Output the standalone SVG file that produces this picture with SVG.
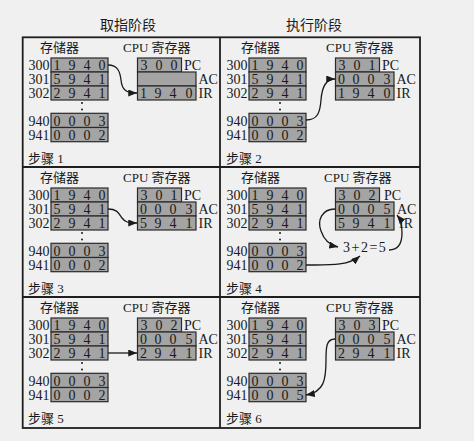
<svg xmlns="http://www.w3.org/2000/svg" width="474" height="441" viewBox="0 0 474 441">
<defs>
<style>
.cjk{font-family:"Noto Sans CJK SC","Noto Sans CJK TC",sans-serif;font-size:13px;fill:#1a1a1a}
.ttl{font-family:"Noto Sans CJK SC","Noto Sans CJK TC",sans-serif;font-size:14px;fill:#1a1a1a;text-anchor:middle}
.num{font-family:"Liberation Serif","Times New Roman",serif;font-size:14px;fill:#1a1a1a}
.mix{font-family:"Liberation Serif","Noto Sans CJK SC",serif;font-size:13px;fill:#1a1a1a}
.c{fill:#a4a4a4;stroke:#2a2a2a;stroke-width:1.2}
.frame{fill:none;stroke:#1e1e1e;stroke-width:1.8}
.conn{fill:none;stroke:#1a1a1a;stroke-width:1.3}
.d{text-anchor:middle}
.a{text-anchor:end}
</style>
<marker id="ah" viewBox="0 0 10 8" refX="10" refY="4" markerWidth="9" markerHeight="7" markerUnits="userSpaceOnUse" orient="auto"><path d="M0,0 L10,4 L0,8 z" fill="#1a1a1a"/></marker>
</defs>
<rect width="474" height="441" fill="#f0f0f0"/>
<text class="ttl" x="128" y="30">取指阶段</text>
<text class="ttl" x="314" y="30">执行阶段</text>
<g id="frame">
<rect class="frame" x="22.7" y="37.3" width="397.3" height="390.7"/>
<line class="frame" x1="220" y1="37.3" x2="220" y2="428"/>
<line class="frame" x1="22.7" y1="167" x2="420" y2="167"/>
<line class="frame" x1="22.7" y1="297" x2="420" y2="297"/>
</g>

<g id="step1">
<text class="cjk" x="40" y="52">存储器</text>
<text class="mix" x="123" y="52">CPU 寄存器</text>
<g class="num a"><text x="49.5" y="70">300</text><text x="49.5" y="84">301</text><text x="49.5" y="98">302</text><text x="49.5" y="125.5">940</text><text x="49.5" y="139.5">941</text></g>
<rect class="c" x="51" y="58" width="57" height="14"/><rect class="c" x="51" y="72" width="57" height="14"/><rect class="c" x="51" y="86" width="57" height="14"/>
<rect class="c" x="51" y="113.3" width="57" height="14.2"/><rect class="c" x="51" y="127.5" width="57" height="14.2"/>
<g class="num d">
<text x="57" y="70">1</text><text x="72" y="70">9</text><text x="87" y="70">4</text><text x="102" y="70">0</text>
<text x="57" y="84">5</text><text x="72" y="84">9</text><text x="87" y="84">4</text><text x="102" y="84">1</text>
<text x="57" y="98">2</text><text x="72" y="98">9</text><text x="87" y="98">4</text><text x="102" y="98">1</text>
<text x="57" y="125.5">0</text><text x="72" y="125.5">0</text><text x="87" y="125.5">0</text><text x="102" y="125.5">3</text>
<text x="57" y="139.5">0</text><text x="72" y="139.5">0</text><text x="87" y="139.5">0</text><text x="102" y="139.5">2</text>
</g>
<circle cx="82" cy="103" r="1" fill="#1a1a1a"/><circle cx="82" cy="109.5" r="1" fill="#1a1a1a"/>
<rect class="c" x="137.5" y="58" width="44" height="14"/><rect class="c" x="137.5" y="72" width="58.5" height="14"/><rect class="c" x="137.5" y="86" width="58.5" height="14"/>
<g class="num d">
<text x="144" y="70">3</text><text x="159" y="70">0</text><text x="174" y="70">0</text>
<text x="143.5" y="98">1</text><text x="158" y="98">9</text><text x="173" y="98">4</text><text x="189" y="98">0</text>
</g>
<g class="num"><text x="184" y="70">PC</text><text x="198.5" y="84">AC</text><text x="198.5" y="98">IR</text></g>
<text class="mix" x="28" y="163">步骤 1</text>
</g>

<g id="step2" transform="translate(198,0)">
<text class="cjk" x="43" y="52">存储器</text>
<text class="mix" x="128" y="52">CPU 寄存器</text>
<g class="num a"><text x="49.5" y="70">300</text><text x="49.5" y="84">301</text><text x="49.5" y="98">302</text><text x="49.5" y="125.5">940</text><text x="49.5" y="139.5">941</text></g>
<rect class="c" x="51" y="58" width="57" height="14"/><rect class="c" x="51" y="72" width="57" height="14"/><rect class="c" x="51" y="86" width="57" height="14"/>
<rect class="c" x="51" y="113.3" width="57" height="14.2"/><rect class="c" x="51" y="127.5" width="57" height="14.2"/>
<g class="num d">
<text x="57" y="70">1</text><text x="72" y="70">9</text><text x="87" y="70">4</text><text x="102" y="70">0</text>
<text x="57" y="84">5</text><text x="72" y="84">9</text><text x="87" y="84">4</text><text x="102" y="84">1</text>
<text x="57" y="98">2</text><text x="72" y="98">9</text><text x="87" y="98">4</text><text x="102" y="98">1</text>
<text x="57" y="125.5">0</text><text x="72" y="125.5">0</text><text x="87" y="125.5">0</text><text x="102" y="125.5">3</text>
<text x="57" y="139.5">0</text><text x="72" y="139.5">0</text><text x="87" y="139.5">0</text><text x="102" y="139.5">2</text>
</g>
<circle cx="82" cy="103" r="1" fill="#1a1a1a"/><circle cx="82" cy="109.5" r="1" fill="#1a1a1a"/>
<rect class="c" x="137.5" y="58" width="44" height="14"/><rect class="c" x="137.5" y="72" width="58.5" height="14"/><rect class="c" x="137.5" y="86" width="58.5" height="14"/>
<g class="num d">
<text x="144" y="70">3</text><text x="159" y="70">0</text><text x="174" y="70">1</text>
<text x="143.5" y="84">0</text><text x="158" y="84">0</text><text x="173" y="84">0</text><text x="189" y="84">3</text>
<text x="143.5" y="98">1</text><text x="158" y="98">9</text><text x="173" y="98">4</text><text x="189" y="98">0</text>
</g>
<g class="num"><text x="184" y="70">PC</text><text x="198.5" y="84">AC</text><text x="198.5" y="98">IR</text></g>
<text class="mix" x="28" y="163">步骤 2</text>
</g>

<g id="step3" transform="translate(0,130)">
<text class="cjk" x="40" y="52">存储器</text>
<text class="mix" x="123" y="52">CPU 寄存器</text>
<g class="num a"><text x="49.5" y="70">300</text><text x="49.5" y="84">301</text><text x="49.5" y="98">302</text><text x="49.5" y="125.5">940</text><text x="49.5" y="139.5">941</text></g>
<rect class="c" x="51" y="58" width="57" height="14"/><rect class="c" x="51" y="72" width="57" height="14"/><rect class="c" x="51" y="86" width="57" height="14"/>
<rect class="c" x="51" y="113.3" width="57" height="14.2"/><rect class="c" x="51" y="127.5" width="57" height="14.2"/>
<g class="num d">
<text x="57" y="70">1</text><text x="72" y="70">9</text><text x="87" y="70">4</text><text x="102" y="70">0</text>
<text x="57" y="84">5</text><text x="72" y="84">9</text><text x="87" y="84">4</text><text x="102" y="84">1</text>
<text x="57" y="98">2</text><text x="72" y="98">9</text><text x="87" y="98">4</text><text x="102" y="98">1</text>
<text x="57" y="125.5">0</text><text x="72" y="125.5">0</text><text x="87" y="125.5">0</text><text x="102" y="125.5">3</text>
<text x="57" y="139.5">0</text><text x="72" y="139.5">0</text><text x="87" y="139.5">0</text><text x="102" y="139.5">2</text>
</g>
<circle cx="82" cy="103" r="1" fill="#1a1a1a"/><circle cx="82" cy="109.5" r="1" fill="#1a1a1a"/>
<rect class="c" x="137.5" y="58" width="44" height="14"/><rect class="c" x="137.5" y="72" width="58.5" height="14"/><rect class="c" x="137.5" y="86" width="58.5" height="14"/>
<g class="num d">
<text x="144" y="70">3</text><text x="159" y="70">0</text><text x="174" y="70">1</text>
<text x="143.5" y="84">0</text><text x="158" y="84">0</text><text x="173" y="84">0</text><text x="189" y="84">3</text>
<text x="143.5" y="98">5</text><text x="158" y="98">9</text><text x="173" y="98">4</text><text x="189" y="98">1</text>
</g>
<g class="num"><text x="184" y="70">PC</text><text x="198.5" y="84">AC</text><text x="198.5" y="98">IR</text></g>
<text class="mix" x="28" y="163">步骤 3</text>
</g>

<g id="step4" transform="translate(198,130)">
<text class="cjk" x="43" y="52">存储器</text>
<text class="mix" x="126" y="52">CPU 寄存器</text>
<g class="num a"><text x="49.5" y="70">300</text><text x="49.5" y="84">301</text><text x="49.5" y="98">302</text><text x="49.5" y="125.5">940</text><text x="49.5" y="139.5">941</text></g>
<rect class="c" x="51" y="58" width="57" height="14"/><rect class="c" x="51" y="72" width="57" height="14"/><rect class="c" x="51" y="86" width="57" height="14"/>
<rect class="c" x="51" y="113.3" width="57" height="14.2"/><rect class="c" x="51" y="127.5" width="57" height="14.2"/>
<g class="num d">
<text x="57" y="70">1</text><text x="72" y="70">9</text><text x="87" y="70">4</text><text x="102" y="70">0</text>
<text x="57" y="84">5</text><text x="72" y="84">9</text><text x="87" y="84">4</text><text x="102" y="84">1</text>
<text x="57" y="98">2</text><text x="72" y="98">9</text><text x="87" y="98">4</text><text x="102" y="98">1</text>
<text x="57" y="125.5">0</text><text x="72" y="125.5">0</text><text x="87" y="125.5">0</text><text x="102" y="125.5">3</text>
<text x="57" y="139.5">0</text><text x="72" y="139.5">0</text><text x="87" y="139.5">0</text><text x="102" y="139.5">2</text>
</g>
<circle cx="82" cy="103" r="1" fill="#1a1a1a"/><circle cx="82" cy="109.5" r="1" fill="#1a1a1a"/>
<rect class="c" x="137.5" y="58" width="44" height="14"/><rect class="c" x="137.5" y="72" width="58.5" height="14"/><rect class="c" x="137.5" y="86" width="58.5" height="14"/>
<g class="num d">
<text x="144" y="70">3</text><text x="159" y="70">0</text><text x="174" y="70">2</text>
<text x="143.5" y="84">0</text><text x="158" y="84">0</text><text x="173" y="84">0</text><text x="189" y="84">5</text>
<text x="143.5" y="98">5</text><text x="158" y="98">9</text><text x="173" y="98">4</text><text x="189" y="98">1</text>
</g>
<g class="num"><text x="186" y="70">PC</text><text x="199" y="84">AC</text><text x="201" y="98">IR</text></g>
<text class="num" x="145" y="122" style="letter-spacing:1.5px">3+2=5</text>
<text class="mix" x="28" y="163">步骤 4</text>
</g>

<g id="step5" transform="translate(0,260)">
<text class="cjk" x="40" y="52">存储器</text>
<text class="mix" x="123" y="52">CPU 寄存器</text>
<g class="num a"><text x="49.5" y="70">300</text><text x="49.5" y="84">301</text><text x="49.5" y="98">302</text><text x="49.5" y="125.5">940</text><text x="49.5" y="139.5">941</text></g>
<rect class="c" x="51" y="58" width="57" height="14"/><rect class="c" x="51" y="72" width="57" height="14"/><rect class="c" x="51" y="86" width="57" height="14"/>
<rect class="c" x="51" y="113.3" width="57" height="14.2"/><rect class="c" x="51" y="127.5" width="57" height="14.2"/>
<g class="num d">
<text x="57" y="70">1</text><text x="72" y="70">9</text><text x="87" y="70">4</text><text x="102" y="70">0</text>
<text x="57" y="84">5</text><text x="72" y="84">9</text><text x="87" y="84">4</text><text x="102" y="84">1</text>
<text x="57" y="98">2</text><text x="72" y="98">9</text><text x="87" y="98">4</text><text x="102" y="98">1</text>
<text x="57" y="125.5">0</text><text x="72" y="125.5">0</text><text x="87" y="125.5">0</text><text x="102" y="125.5">3</text>
<text x="57" y="139.5">0</text><text x="72" y="139.5">0</text><text x="87" y="139.5">0</text><text x="102" y="139.5">2</text>
</g>
<circle cx="82" cy="103" r="1" fill="#1a1a1a"/><circle cx="82" cy="109.5" r="1" fill="#1a1a1a"/>
<rect class="c" x="137.5" y="58" width="44" height="14"/><rect class="c" x="137.5" y="72" width="58.5" height="14"/><rect class="c" x="137.5" y="86" width="58.5" height="14"/>
<g class="num d">
<text x="144" y="70">3</text><text x="159" y="70">0</text><text x="174" y="70">2</text>
<text x="143.5" y="84">0</text><text x="158" y="84">0</text><text x="173" y="84">0</text><text x="189" y="84">5</text>
<text x="143.5" y="98">2</text><text x="158" y="98">9</text><text x="173" y="98">4</text><text x="189" y="98">1</text>
</g>
<g class="num"><text x="184" y="70">PC</text><text x="198.5" y="84">AC</text><text x="198.5" y="98">IR</text></g>
<text class="mix" x="28" y="163">步骤 5</text>
</g>

<g id="step6" transform="translate(198,260)">
<text class="cjk" x="43" y="52">存储器</text>
<text class="mix" x="128" y="52">CPU 寄存器</text>
<g class="num a"><text x="49.5" y="70">300</text><text x="49.5" y="84">301</text><text x="49.5" y="98">302</text><text x="49.5" y="125.5">940</text><text x="49.5" y="139.5">941</text></g>
<rect class="c" x="51" y="58" width="57" height="14"/><rect class="c" x="51" y="72" width="57" height="14"/><rect class="c" x="51" y="86" width="57" height="14"/>
<rect class="c" x="51" y="113.3" width="57" height="14.2"/><rect class="c" x="51" y="127.5" width="57" height="14.2"/>
<g class="num d">
<text x="57" y="70">1</text><text x="72" y="70">9</text><text x="87" y="70">4</text><text x="102" y="70">0</text>
<text x="57" y="84">5</text><text x="72" y="84">9</text><text x="87" y="84">4</text><text x="102" y="84">1</text>
<text x="57" y="98">2</text><text x="72" y="98">9</text><text x="87" y="98">4</text><text x="102" y="98">1</text>
<text x="57" y="125.5">0</text><text x="72" y="125.5">0</text><text x="87" y="125.5">0</text><text x="102" y="125.5">3</text>
<text x="57" y="139.5">0</text><text x="72" y="139.5">0</text><text x="87" y="139.5">0</text><text x="102" y="139.5">5</text>
</g>
<circle cx="82" cy="103" r="1" fill="#1a1a1a"/><circle cx="82" cy="109.5" r="1" fill="#1a1a1a"/>
<rect class="c" x="137.5" y="58" width="44" height="14"/><rect class="c" x="137.5" y="72" width="58.5" height="14"/><rect class="c" x="137.5" y="86" width="58.5" height="14"/>
<g class="num d">
<text x="144" y="70">3</text><text x="159" y="70">0</text><text x="174" y="70">3</text>
<text x="143.5" y="84">0</text><text x="158" y="84">0</text><text x="173" y="84">0</text><text x="189" y="84">5</text>
<text x="143.5" y="98">2</text><text x="158" y="98">9</text><text x="173" y="98">4</text><text x="189" y="98">1</text>
</g>
<g class="num"><text x="184" y="70">PC</text><text x="198.5" y="84">AC</text><text x="198.5" y="98">IR</text></g>
<text class="mix" x="28" y="163">步骤 6</text>
</g>

<g id="connectors">
<path class="conn" marker-end="url(#ah)" d="M108,65 C118,65 120,72 121,80 C122,90 126,93 137,93"/>
<path class="conn" marker-end="url(#ah)" d="M306,120 C318,120 320,112 321,100 C322,86 326,79 335,79"/>
<path class="conn" marker-end="url(#ah)" d="M108,209 C118,209 119,214 122,218 C125,222 128,223 137,223"/>
<path class="conn" marker-end="url(#ah)" d="M335,209 C322,209 317,220 321,231 C324,240 329,245 338,247"/>
<path class="conn" marker-end="url(#ah)" d="M306,265 C330,265 348,266 360,256"/>
<path class="conn" marker-end="url(#ah)" d="M389,250 C398,250 402,243 402,233 C402,225 401,220 397,215"/>
<path class="conn" marker-end="url(#ah)" d="M108,353 L137,353"/>
<path class="conn" marker-end="url(#ah)" d="M335,339 C326,339 326,348 326,360 C326,380 324,392 306,395"/>
</g>
</svg>
